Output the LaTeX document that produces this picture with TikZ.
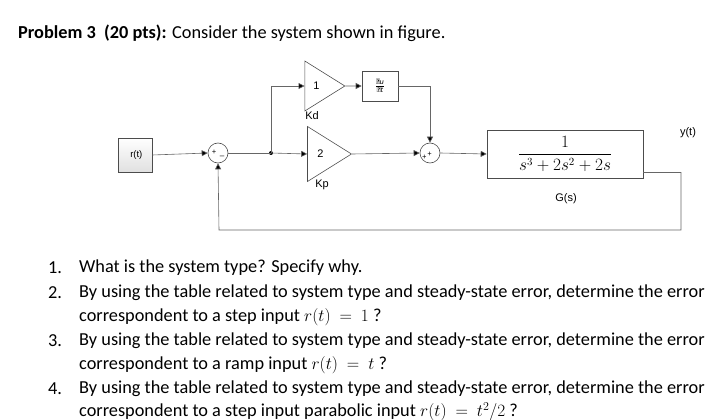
\documentclass[tikz,border=0pt]{standalone}
\usepackage{amsmath}
\usepackage{fontspec}
\setmainfont{Carlito}
\newfontfamily\arialf{Liberation Sans}
\usetikzlibrary{arrows.meta,shapes.geometric}
\begin{document}
\begin{tikzpicture}[x=1pt,y=-1pt,
  wire/.style={draw=black!60,line width=0.6pt},
  arr/.style={wire,-{Triangle[length=6pt,width=6pt,fill=black]}},
  blk/.style={draw=black!70,line width=0.6pt,inner sep=0pt},
  gain/.style={draw=black!70,line width=0.6pt,isosceles triangle,isosceles triangle apex angle=64,minimum height=40pt,inner sep=0pt,font=\arialf\fontsize{11}{12}\selectfont},
  sumc/.style={draw=black!70,line width=0.6pt,circle,minimum size=20pt,inner sep=0pt},
  lbl/.style={font=\arialf\fontsize{11}{12}\selectfont},
  txt/.style={anchor=west,font=\fontsize{18.3}{20}\selectfont,inner sep=0pt}]
\useasboundingbox (0,0) rectangle (724,420);
\node[txt] (title) at (18,33) {\textbf{Problem 3\ \ (20 pts):} Consider the system shown in figure.};
\node[blk,minimum width=34pt,minimum height=34pt,left color=white,right color=black!12,shading angle=0] (r) at (135,155) {\arialf\fontsize{9.5}{10}\selectfont\ r(t)};
\node[sumc] (s1) at (218,153) {};
\node[font=\fontsize{8}{8}\selectfont] at (214,152) {+};
\node[font=\fontsize{9}{9}\selectfont] at (222,156) {\_};
\fill (271,153) circle (2pt) coordinate (j);
\node[gain,minimum height=44pt] (kp) at (322,154) {2\ \ };
\node[gain] (kd) at (318,86) {1\ \ };
\node[blk,minimum width=36pt,minimum height=30pt] (d) at (380,86) {\fontsize{11}{12}\selectfont$\frac{\mathbf{\Delta}\mathit{u}}{\mathbf{\Delta}\mathit{t}}$};
\node[sumc] (s2) at (430,153) {};
\node[font=\fontsize{8}{8}\selectfont] at (427,156) {+\,\raisebox{3pt}{+}};
\node[blk,minimum width=156pt,minimum height=48pt] (g) at (565,154) {\fontsize{16}{18}\selectfont$\dfrac{1}{s^3+2s^2+2s}$};
\node[lbl] at (312,116) {Kd};
\node[lbl] at (322,185) {Kp};
\node[lbl] at (566,199) {G(s)};
\node[lbl] at (688,133) {y(t)};
\coordinate (o) at (681,172);
\draw[arr] (r.east) -- (s1.west);
\draw[wire] (s1.east) -- (j);
\draw[arr] (j) -- (kp.west);
\draw[arr] (j) |- (kd.west);
\draw[arr] (kd.east) -- (d.west);
\draw[arr] (d.east) -| (s2.north);
\draw[arr] (kp.east) -- (s2.west);
\draw[arr] (s2.east) -- (g.west);
\draw[wire] (g.east |- o) -- (o);
\draw[arr] (o) |- (219,230) -- (s1.south);
\node[txt] at (48,268) {1.};
\node[txt] at (79,268) {What is the system type? Specify why.};
\node[txt] at (48,293) {2.};
\node[txt] at (79,293) {By using the table related to system type and steady-state error, determine the error};
\node[txt] at (79,317) {correspondent to a step input $r(t)\ =\ 1$ ?};
\node[txt] at (48,341) {3.};
\node[txt] at (79,341) {By using the table related to system type and steady-state error, determine the error};
\node[txt] at (79,365) {correspondent to a ramp input $r(t)\ =\ t$ ?};
\node[txt] at (48,389) {4.};
\node[txt] at (79,389) {By using the table related to system type and steady-state error, determine the error};
\node[txt] at (79,412) {correspondent to a step input parabolic input $r(t)\ =\ t^2/2$ ?};
\end{tikzpicture}
\end{document}
